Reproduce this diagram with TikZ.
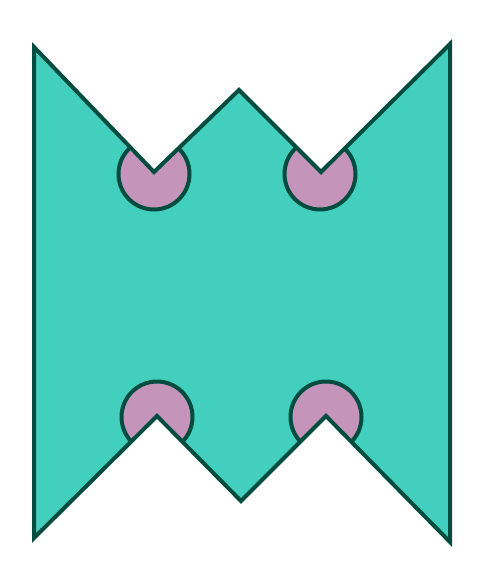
\documentclass[tikz,border=0pt]{standalone}
\definecolor{tealfill}{RGB}{67,207,190}
\definecolor{pinkfill}{RGB}{196,148,186}
\definecolor{darkline}{RGB}{0,77,64}
\begin{document}
\begin{tikzpicture}[x=1pt, y=-1pt, line width=4pt, line join=miter, line cap=round]
		\useasboundingbox (0,0) rectangle (484,585);
		\def\outline{(34,47)--(154,172)--(239,90)--(321,172)--(450,44)--(450,542)--(326,416)--(241,501)--(157,416)--(34,538)--cycle}
		\fill[tealfill] \outline;
		\begin{scope}
		\clip \outline;
		\foreach \cx/\cy in {154/174, 320/174, 157/417, 326/417}
		\draw[darkline, fill=pinkfill] (\cx,\cy) circle (35.5);
		\end{scope}
		\draw[darkline] \outline;
		\end{tikzpicture}
\end{document}
